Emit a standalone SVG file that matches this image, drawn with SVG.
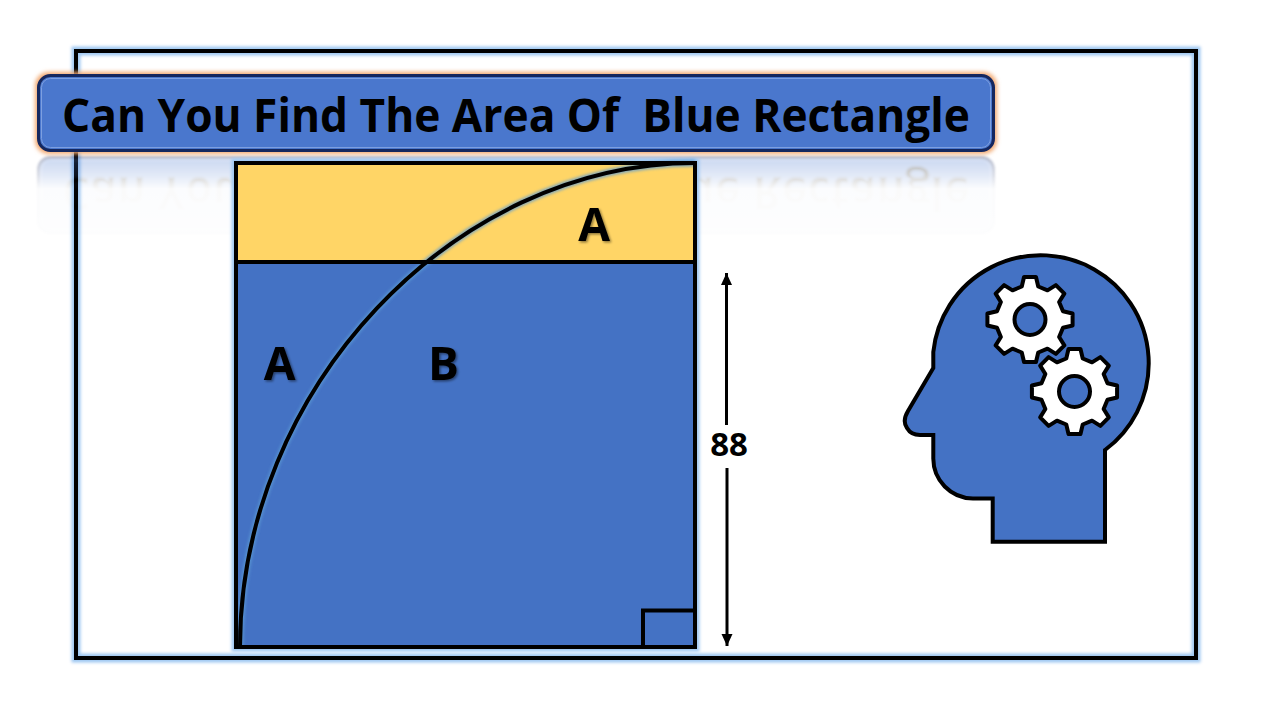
<svg xmlns="http://www.w3.org/2000/svg" xmlns:xlink="http://www.w3.org/1999/xlink" width="1280" height="720" viewBox="0 0 1280 720">
<style>
.ln{fill:none;stroke:#000;stroke-width:4}
.lab{font-family:"Open Sans","Noto Sans","Liberation Sans",sans-serif;font-weight:700;fill:#000;text-anchor:middle}
.big{font-size:46px;filter:url(#ts)}
.gear{fill:#fff;stroke:#000;stroke-width:4;stroke-linejoin:round}
.hole{fill:#4472c4;stroke:#000;stroke-width:4}
.arw{fill:none;stroke:#000;stroke-width:3;marker-end:url(#ah)}
</style>
<defs>
<filter id="gb" x="-5%" y="-5%" width="110%" height="110%"><feGaussianBlur stdDeviation="1.8"/></filter>
<filter id="gt" x="-10%" y="-30%" width="120%" height="160%"><feGaussianBlur stdDeviation="2"/></filter>
<filter id="ga" x="-5%" y="-5%" width="110%" height="110%"><feGaussianBlur stdDeviation="1.6"/></filter>
<filter id="rb" x="-5%" y="-20%" width="110%" height="140%"><feGaussianBlur stdDeviation="1.2"/></filter>
<filter id="ts" x="-20%" y="-20%" width="150%" height="150%"><feDropShadow dx="1.5" dy="1.5" stdDeviation="1" flood-color="#000" flood-opacity=".45"/></filter>
<linearGradient id="fade" gradientUnits="userSpaceOnUse" x1="0" y1="155" x2="0" y2="236">
<stop offset="0" stop-color="#fff" stop-opacity=".32"/><stop offset=".25" stop-color="#fff" stop-opacity=".16"/><stop offset=".42" stop-color="#fff" stop-opacity=".02"/><stop offset="1" stop-color="#fff" stop-opacity=".01"/>
</linearGradient>
<mask id="rm" maskUnits="userSpaceOnUse" x="30" y="150" width="980" height="90"><rect x="30" y="150" width="980" height="90" fill="url(#fade)"/></mask>
<marker id="ah" viewBox="0 0 12 12" refX="12" refY="6" markerWidth="12" markerHeight="12" markerUnits="userSpaceOnUse" orient="auto"><path d="M0,0.500 L12,6 L0,11.500 Z" fill="#000"/></marker>
<g id="tb">
<rect x="38.500" y="75.500" width="955" height="75" rx="12" fill="#4a77cd" stroke="#14275f" stroke-width="3"/>
<rect x="41.500" y="78.500" width="949" height="69" rx="9" fill="none" stroke="#7d9fe0" stroke-width="1"/>
<text x="62" y="131.500" font-family="'Open Sans','Noto Sans','Liberation Sans',sans-serif" font-weight="700" font-size="46" textLength="908" lengthAdjust="spacingAndGlyphs" xml:space="preserve" style="white-space:pre">Can You Find The Area Of  Blue Rectangle</text>
</g>
<path id="g" d="M32.99,-8.23 42.58,-5.98 42.58,5.98 32.99,8.23 29.14,17.51 34.34,25.88 25.88,34.34 17.51,29.14 8.23,32.99 5.98,42.58 -5.98,42.58 -8.23,32.99 -17.51,29.14 -25.88,34.34 -34.34,25.88 -29.14,17.51 -32.99,8.23 -42.58,5.98 -42.58,-5.98 -32.99,-8.23 -29.14,-17.51 -34.34,-25.88 -25.88,-34.34 -17.51,-29.14 -8.23,-32.99 -5.98,-42.58 5.98,-42.58 8.23,-32.99 17.51,-29.14 25.88,-34.34 34.34,-25.88 29.14,-17.51 Z"/>
</defs>
<rect width="1280" height="720" fill="#fff"/>
<g id="frame">
<rect x="76" y="51" width="1120" height="607" fill="none" stroke="#9fc8f2" stroke-width="9" filter="url(#gb)"/>
<rect x="76" y="51" width="1120" height="607" class="ln"/>
</g>
<g id="reflection" mask="url(#rm)" filter="url(#rb)">
<use xlink:href="#tb" href="#tb" transform="translate(0,308) scale(1,-1)"/>
</g>
<g id="title">
<rect x="35" y="72" width="962" height="82" rx="14" fill="#f2a870" filter="url(#gt)"/>
<use xlink:href="#tb" href="#tb"/>
</g>
<g id="square">
<rect x="236" y="163" width="459" height="484" fill="none" stroke="#9fc8f2" stroke-width="9" filter="url(#gb)"/>
<rect x="236" y="163" width="459" height="99" fill="#ffd566"/>
<rect x="236" y="262" width="459" height="385" fill="#4472c4"/>
<path d="M240,647 C240,389.500 453,163 695,163" fill="none" stroke="#5b9bd5" stroke-width="7" opacity=".8" filter="url(#ga)"/>
<path d="M240,647 C240,389.500 453,163 695,163" class="ln"/>
<path d="M236,262 H695" class="ln"/>
<path d="M643,647 V610.500 H695" class="ln"/>
<rect x="236" y="163" width="459" height="484" class="ln"/>
</g>
<g id="connectors">
<path d="M726.500,425 V273" class="arw"/>
<path d="M727,468 V646" class="arw"/>
</g>
<g id="labels">
<text class="lab big" x="594" y="241">A</text>
<text class="lab big" x="279.500" y="380">A</text>
<text class="lab big" x="443.500" y="380">B</text>
<text class="lab" x="729" y="456" font-size="33">88</text>
</g>
<g id="head">
<path d="M933.300,368 L908,411 Q902,421 907,428 Q911,435 920,435 H933.300 V458 A40,40 0 0 0 973,498.500 H992.700 V541.700 H1105 V450 A108,108 0 1 0 933.300,352 Z" fill="#4472c4" stroke="#000" stroke-width="4"/>
<use xlink:href="#g" href="#g" class="gear" transform="translate(1030,319.500)"/>
<circle class="hole" cx="1030" cy="319.500" r="15.500"/>
<use xlink:href="#g" href="#g" class="gear" transform="translate(1074.500,391.500)"/>
<circle class="hole" cx="1074.500" cy="391.500" r="15.500"/>
</g>
</svg>
